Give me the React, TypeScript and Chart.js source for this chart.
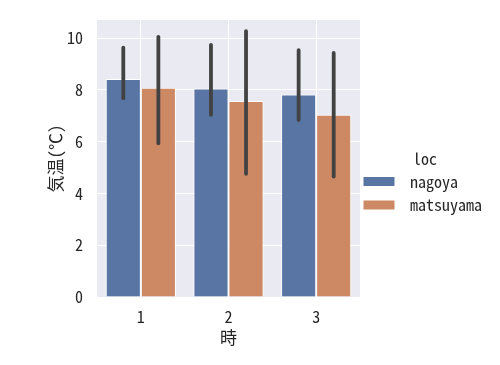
import React, { useEffect, useRef } from "react";
import { Chart, registerables } from "chart.js";

Chart.register(...registerables);

const categories = ["1", "2", "3"];
const seriesNames = ["nagoya", "matsuyama"];
const nagoyaValues = [8.42, 8.05, 7.82];
const matsuyamaValues = [8.08, 7.57, 7.04];
const nagoyaLow = [7.68, 7.04, 6.84];
const nagoyaHigh = [9.63, 9.74, 9.54];
const matsuyamaLow = [5.94, 4.76, 4.65];
const matsuyamaHigh = [10.05, 10.27, 9.43];
const yTicks = [0, 2, 4, 6, 8, 10];
const colors = ["#5875a4", "#cc8963"];

const FONT = "'Noto Sans Mono CJK JP', 'Noto Sans CJK JP', monospace";

const bgPlugin = {
  id: "bg",
  beforeDraw(chart: any) {
    const { ctx, chartArea } = chart;
    ctx.save();
    ctx.fillStyle = "#eaeaf2";
    ctx.fillRect(chartArea.left, chartArea.top, chartArea.right - chartArea.left, chartArea.bottom - chartArea.top);
    ctx.restore();
  },
};

const errPlugin = {
  id: "errbars",
  afterDatasetsDraw(chart: any) {
    const { ctx } = chart;
    const y = chart.scales.y;
    const lows = [nagoyaLow, matsuyamaLow];
    const highs = [nagoyaHigh, matsuyamaHigh];
    ctx.save();
    ctx.strokeStyle = "#424242";
    ctx.lineWidth = 3.8;
    ctx.lineCap = "round";
    for (let d = 0; d < 2; d++) {
      const meta = chart.getDatasetMeta(d);
      meta.data.forEach((el: any, j: number) => {
        ctx.beginPath();
        ctx.moveTo(el.x, y.getPixelForValue(lows[d][j]));
        ctx.lineTo(el.x, y.getPixelForValue(highs[d][j]));
        ctx.stroke();
      });
    }
    ctx.restore();
  },
};

const legendPlugin = {
  id: "customLegend",
  afterDraw(chart: any) {
    const { ctx } = chart;
    ctx.save();
    ctx.font = `16px ${FONT}`;
    ctx.fillStyle = "#262626";
    ctx.textBaseline = "middle";
    ctx.textAlign = "center";
    ctx.fillText("loc", 425, 159);
    ctx.textAlign = "left";
    seriesNames.forEach((name, i) => {
      const yy = 181.5 + i * 23.5;
      ctx.fillStyle = colors[i];
      ctx.fillRect(363, yy - 5, 32, 10);
      ctx.strokeStyle = "#ffffff";
      ctx.lineWidth = 1;
      ctx.strokeRect(363, yy - 5, 32, 10);
      ctx.fillStyle = "#262626";
      ctx.fillText(name, 410, yy);
    });
    ctx.restore();
  },
};

export default function App() {
  const ref = useRef<HTMLCanvasElement>(null);
  useEffect(() => {
    if (!ref.current) return;
    const chart = new Chart(ref.current, {
      type: "bar",
      data: {
        labels: categories,
        datasets: [
          {
            label: seriesNames[0],
            data: nagoyaValues,
            backgroundColor: colors[0],
            borderColor: "#ffffff",
            borderWidth: 1,
          },
          {
            label: seriesNames[1],
            data: matsuyamaValues,
            backgroundColor: colors[1],
            borderColor: "#ffffff",
            borderWidth: 1,
          },
        ],
      },
      options: {
        animation: false,
        responsive: false,
        maintainAspectRatio: false,
        layout: { padding: { top: 20, right: 140, left: 0, bottom: 0 } },
        datasets: { bar: { categoryPercentage: 0.8, barPercentage: 1.0 } },
        plugins: { legend: { display: false }, tooltip: { enabled: false } },
        scales: {
          x: {
            offset: true,
            grid: { color: "#ffffff", lineWidth: 1, offset: false, drawTicks: false },
            border: { display: false },
            ticks: { color: "#262626", font: { family: FONT, size: 16 }, padding: 10 },
            title: { display: true, text: "時", color: "#262626", font: { family: FONT, size: 17 }, padding: { top: 0, bottom: 17 } },
            afterFit(scale: any) {
              scale.height = 68;
              scale.paddingLeft = 0;
              scale.paddingRight = 0;
            },
          },
          y: {
            min: 0,
            max: 10.7,
            grid: { color: "#ffffff", lineWidth: 1, drawTicks: false },
            border: { display: false },
            afterBuildTicks(scale: any) {
              scale.ticks = yTicks.map((v) => ({ value: v }));
            },
            ticks: { color: "#262626", font: { family: FONT, size: 16 }, padding: 14 },
            title: { display: true, text: "気温(℃)", color: "#262626", font: { family: FONT, size: 17 }, padding: { top: 45, bottom: 0 } },
            afterFit(scale: any) {
              scale.width = 97;
              scale.paddingTop = 0;
              scale.paddingBottom = 0;
            },
          },
        },
      } as any,
      plugins: [bgPlugin, errPlugin, legendPlugin],
    });
    return () => chart.destroy();
  }, []);
  return (
    <div style={{ position: "absolute", left: 0, top: 0, width: 500, height: 365, background: "#ffffff" }}>
      <canvas ref={ref} width={500} height={365} style={{ width: 500, height: 365 }} />
    </div>
  );
}
